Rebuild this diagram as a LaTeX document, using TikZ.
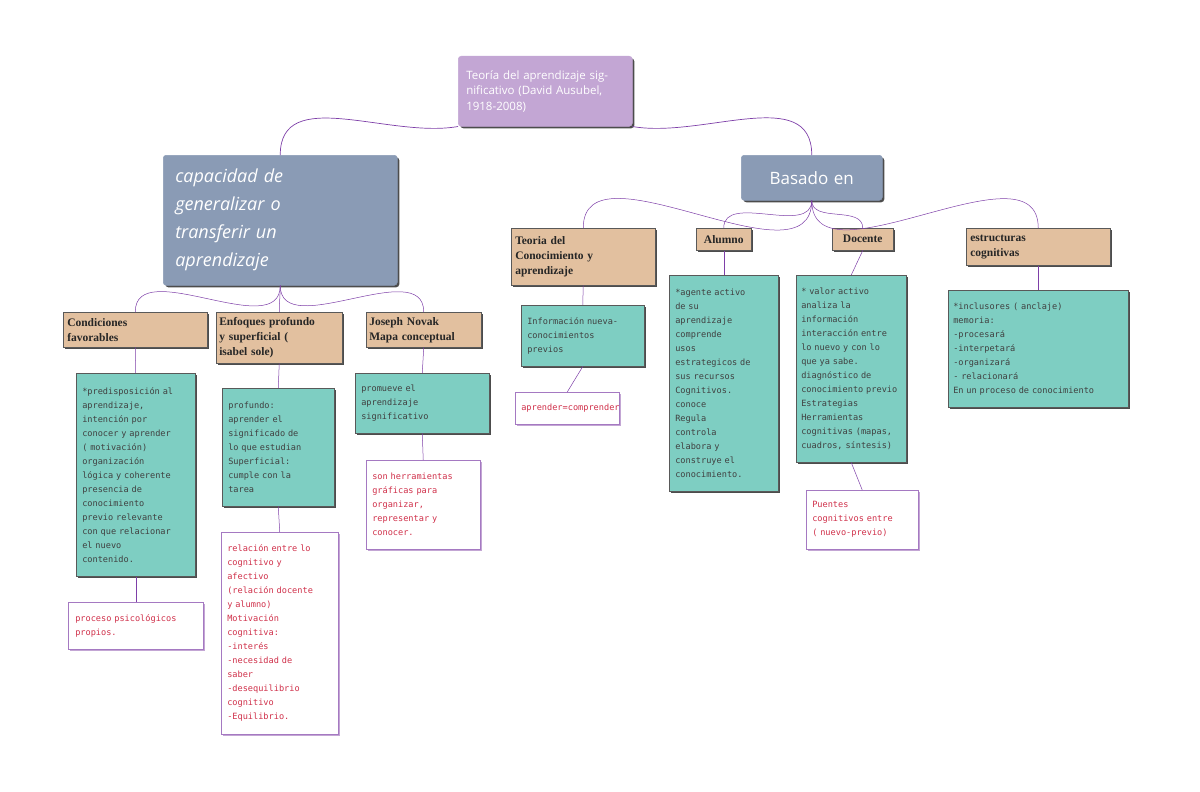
\documentclass[tikz,border=0pt]{standalone}
\usepackage{fontspec}
\setmainfont{Open Sans}
\newfontfamily\monof{DejaVu Sans Mono}
\newfontfamily\headf{Liberation Serif}
\usetikzlibrary{shadows}
\definecolor{lav}{HTML}{C3A6D4}
\definecolor{slate}{HTML}{8A9BB5}
\definecolor{tan}{HTML}{E2C09F}
\definecolor{teal}{HTML}{7ECEC2}
\definecolor{linep}{HTML}{7E3FA8}
\definecolor{redt}{HTML}{D0304A}
\tikzset{
  box/.style={anchor=north west, inner sep=0pt, align=left, draw=gray!70!black, line width=0.5pt,
    drop shadow={shadow xshift=2pt, shadow yshift=-2pt, fill=gray!60!black, opacity=1}},
  main/.style={box, fill=slate, draw=slate, rounded corners=3pt, text=white},
  head/.style={box, fill=tan, font=\headf\bfseries\fontsize{11.5}{15}\selectfont, text=black!85},
  info/.style={box, fill=teal, font=\monof\fontsize{8.6}{14}\selectfont, text=black!75},
  note/.style={box, fill=white, draw=linep!70, font=\monof\fontsize{8.6}{14}\selectfont, text=redt,
    drop shadow={shadow xshift=2pt, shadow yshift=-2pt, fill=lav, opacity=1}},
  link/.style={draw=linep, line width=0.7pt},
}
\begin{document}
\begin{tikzpicture}[x=1pt,y=-1pt]
\useasboundingbox (0,0) rectangle (1200,792);

% top
\node[main, fill=lav, draw=lav, minimum width=174pt, minimum height=70pt, text width=158pt,
  font=\fontsize{11.5}{15.5}\selectfont] (title) at (458,56) {Teoría del aprendizaje significativo (David Ausubel, 1918-2008)};
\node[main, minimum width=234pt, minimum height=130pt, text width=210pt,
  font=\itshape\fontsize{18}{28}\selectfont] (capac) at (163,155) {capacidad de\\generalizar o\\transferir un\\aprendizaje};
\node[main, minimum width=141pt, minimum height=45pt, align=center, text width=141pt,
  font=\fontsize{17}{20}\selectfont] (basado) at (741,155) {Basado en};

\draw[link] (title.south west) to[out=190,in=90] (capac.north);
\draw[link] (title.south east) to[out=-10,in=90] (basado.north);

% left branch
\node[head, minimum width=144pt, minimum height=35pt, text width=136pt] (condic) at (63,312) {Condiciones\\favorables};
\node[head, minimum width=126pt, minimum height=51pt, text width=120pt] (enfoq) at (216,312) {Enfoques profundo\\y superficial (\\isabel sole)};
\node[head, minimum width=115pt, minimum height=35pt, text width=109pt] (novak) at (366,312) {Joseph Novak\\Mapa conceptual};

\node[info, minimum width=119pt, minimum height=203pt, text width=107pt] (condinfo) at (76,373) {*predisposición al\\aprendizaje,\\intención por\\conocer y aprender\\( motivación)\\* organización\\lógica y coherente\\* presencia de\\conocimiento\\previo relevante\\con que relacionar\\el nuevo\\contenido.};
\node[info, minimum width=112pt, minimum height=118pt, text width=100pt] (enfinfo) at (222,388) {profundo:\\aprender el\\significado de\\lo que estudian\\Superficial:\\cumple con la\\tarea};
\node[info, minimum width=134pt, minimum height=60pt, text width=122pt] (novinfo) at (355,373) {promueve el\\aprendizaje\\significativo};

\node[note, minimum width=135pt, minimum height=47pt, text width=121pt] (condnote) at (68,602) {proceso psicológicos\\propios.};
\node[note, minimum width=117pt, minimum height=202pt, text width=105pt] (enfnote) at (221,532) {relación entre lo\\cognitivo y\\afectivo\\(relación docente\\y alumno)\\Motivación\\cognitiva:\\-interés\\-necesidad de\\saber\\-desequilibrio\\cognitivo\\-Equilibrio.};
\node[note, minimum width=114pt, minimum height=89pt, text width=102pt] (novnote) at (366,460) {son herramientas\\gráficas para\\organizar,\\representar y\\conocer.};

% right branch
\node[head, minimum width=144pt, minimum height=57pt, text width=136pt] (teoria) at (511,228) {Teoria del\\Conocimiento y\\aprendizaje};
\node[head, minimum width=55pt, minimum height=22pt, text width=55pt, align=center] (alumno) at (696,228) {Alumno};
\node[head, minimum width=61pt, minimum height=22pt, text width=61pt, align=center] (docente) at (832,228) {Docente};
\node[head, minimum width=144pt, minimum height=37pt, text width=136pt] (estruct) at (966,228) {estructuras\\cognitivas};

\node[info, minimum width=123pt, minimum height=61pt, text width=111pt] (teoinfo) at (521,305) {Información nueva-\\conocimientos\\previos};
\node[info, minimum width=109pt, minimum height=216pt, text width=97pt] (aluinfo) at (669,275) {*agente activo\\de su\\aprendizaje\\* comprende\\*usos\\estrategicos de\\sus recursos\\Cognitivos.\\*conoce\\* Regula\\*controla\\* elabora y\\construye el\\conocimiento.};
\node[info, minimum width=110pt, minimum height=187pt, text width=100pt] (docinfo) at (796,275) {* valor activo\\* analiza la\\información\\* interacción entre\\lo nuevo y con lo\\que ya sabe.\\* diagnóstico de\\conocimiento previo\\* Estrategias\\*Herramientas\\cognitivas (mapas,\\cuadros, síntesis)};
\node[info, minimum width=180pt, minimum height=117pt, text width=170pt] (estinfo) at (948,290) {*inclusores ( anclaje)\\* memoria:\\-procesará\\-interpetará\\-organizará\\- relacionará\\En un proceso de conocimiento};

\node[note, minimum width=104pt, minimum height=32pt, text width=92pt] (teonote) at (515,392) {aprender=comprender};
\node[note, minimum width=112pt, minimum height=59pt, text width=100pt] (docnote) at (806,490) {Puentes\\cognitivos entre\\( nuevo-previo)};

% connectors
\foreach \c in {condic,enfoq,novak}
  \draw[link, line width=0.5pt] (capac.south) to[out=-90,in=90] (\c.north);
\foreach \c in {teoria,alumno,docente,estruct}
  \draw[link, line width=0.5pt] (basado.south) to[out=-90,in=90] (\c.north);
\foreach \a/\b in {condic/condinfo,condinfo/condnote,enfoq/enfinfo,enfinfo/enfnote,novak/novinfo,novinfo/novnote,
  teoria/teoinfo,teoinfo/teonote,alumno/aluinfo,docente/docinfo,docinfo/docnote,estruct/estinfo}
  \draw[link, line width=0.5pt] (\a.south) -- (\b.north);
\end{tikzpicture}
\end{document}
